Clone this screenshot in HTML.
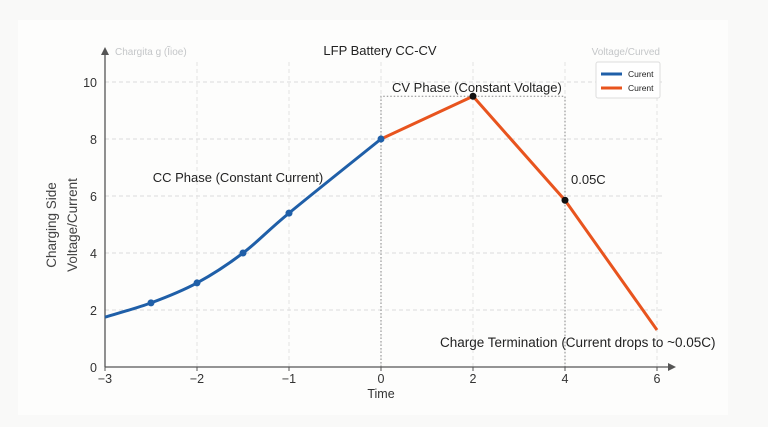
<!DOCTYPE html>
<html><head><meta charset="utf-8"><style>
html,body{margin:0;padding:0;background:#f9f9f8;}
svg{display:block;font-family:"Liberation Sans",sans-serif;}
</style></head><body>
<svg id="chart" width="768" height="427" viewBox="0 0 768 427" xmlns="http://www.w3.org/2000/svg">
<rect x="18" y="20" width="710" height="395" fill="#fdfdfc"/>
<g id="grid"></g><g id="axes"></g><g id="series"></g>
<text x="380" y="55" font-size="13" text-anchor="middle" fill="#222">LFP Battery CC-CV</text>
<text x="115" y="55" font-size="10" fill="#c4c6c8">Chargita g (Ĩioe)</text>
<text x="660" y="55" font-size="10" text-anchor="end" fill="#c4c6c8">Voltage/Curved</text>
<text transform="translate(56,225) rotate(-90)" font-size="13.5" text-anchor="middle" fill="#444">Charging Side</text>
<text transform="translate(77,225) rotate(-90)" font-size="13.5" text-anchor="middle" fill="#444">Voltage/Current</text>
<text x="381" y="398" font-size="12.5" text-anchor="middle" fill="#333">Time</text>
<text x="238" y="182" font-size="13" text-anchor="middle" fill="#222">CC Phase (Constant Current)</text>
<text x="392" y="92" font-size="13" fill="#222">CV Phase (Constant Voltage)</text>
<text x="571" y="184" font-size="13" fill="#222">0.05C</text>
<text x="440" y="347" font-size="13.5" fill="#222">Charge Termination (Current drops to ~0.05C)</text>
<g>
<rect x="596" y="62" width="64" height="36" fill="#fff" stroke="#ddd" rx="2"/>
<line x1="601" y1="74" x2="622" y2="74" stroke="#1f5fa8" stroke-width="3"/>
<text x="628" y="77" font-size="8.5" fill="#222">Curent</text>
<line x1="601" y1="88" x2="622" y2="88" stroke="#e8541e" stroke-width="3"/>
<text x="628" y="91" font-size="8.5" fill="#222">Curent</text>
</g>
</svg>
<script>
const xTicks=[-3,-2,-1,0,2,4,6];
const yTicks=[0,2,4,6,8,10];
const ccX=[-3,-2.5,-2,-1.5,-1,0];
const ccY=[1.75,2.25,2.95,4.0,5.4,8.0];
const cvX=[0,2,4,6];
const cvY=[8.0,9.5,5.85,1.3];
const ccMarkers=[-2.5,-2,-1.5,-1,0];
const NS="http://www.w3.org/2000/svg";
const X0=105,DX=92,Y0=367,DY=28.5;
function sx(v){
  for(let i=0;i<xTicks.length-1;i++){const a=xTicks[i],b=xTicks[i+1];
    if(v<=b||i===xTicks.length-2)return X0+DX*(i+(v-a)/(b-a));}
}
function sy(v){return Y0-v*DY;}
function mk(p,tag,attrs){const e=document.createElementNS(NS,tag);for(const k in attrs)e.setAttribute(k,attrs[k]);p.appendChild(e);return e;}
const grid=document.getElementById('grid'),axes=document.getElementById('axes'),ser=document.getElementById('series');
yTicks.forEach(t=>{if(t===0)return;const l=mk(grid,'line',{x1:105,x2:662,y1:sy(t),y2:sy(t),stroke:'#dcdcdc','stroke-dasharray':'4 3'});

});
xTicks.forEach(t=>{if(t===-3)return;const l=mk(grid,'line',{x1:sx(t),x2:sx(t),y1:Y0,y2:60,stroke:'#e2e2e2','stroke-dasharray':'4 3'});

});
const bx=mk(grid,'path',{d:`M${sx(0)},${Y0}V${sy(9.5)}H${sx(4)}V${Y0}`,fill:'none',stroke:'#888','stroke-dasharray':'1.5 2','stroke-width':1});


const ya=mk(axes,'line',{x1:105,x2:105,y1:Y0,y2:52,stroke:'#555','stroke-width':1.3});


const xa=mk(axes,'line',{x1:105,x2:670,y1:Y0,y2:Y0,stroke:'#555','stroke-width':1.3});


mk(axes,'path',{d:'M101,55L105,47L109,55Z',fill:'#555'});
mk(axes,'path',{d:'M668,363L676,367L668,371Z',fill:'#555'});
yTicks.forEach(t=>{const tx=mk(axes,'text',{x:97,y:sy(t)+5,'font-size':12.5,'text-anchor':'end',fill:'#333'});tx.textContent=t;

});
xTicks.forEach(t=>{mk(axes,'line',{x1:sx(t),x2:sx(t),y1:Y0,y2:Y0+4,stroke:'#555'});
const tx=mk(axes,'text',{x:sx(t),y:Y0+16,'font-size':12.5,'text-anchor':'middle',fill:'#333'});tx.textContent=(t<0?'\u2212'+(-t):t);

});
function smooth(xs,ys){const p=xs.map((x,i)=>[sx(x),sy(ys[i])]);let d=`M${p[0][0]},${p[0][1]}`;
for(let i=0;i<p.length-1;i++){const p0=p[i-1]||p[i],p1=p[i],p2=p[i+1],p3=p[i+2]||p2;
d+=`C${p1[0]+(p2[0]-p0[0])/6},${p1[1]+(p2[1]-p0[1])/6} ${p2[0]-(p3[0]-p1[0])/6},${p2[1]-(p3[1]-p1[1])/6} ${p2[0]},${p2[1]}`;}return d;}
const cv=mk(ser,'path',{d:'M'+cvX.map((x,i)=>sx(x)+','+sy(cvY[i])).join('L'),fill:'none',stroke:'#e8541e','stroke-width':3,'stroke-linejoin':'round'});


const cc=mk(ser,'path',{d:smooth(ccX,ccY),fill:'none',stroke:'#1f5fa8','stroke-width':3});


ccX.forEach((x,i)=>{if(!ccMarkers.includes(x))return;const c=mk(ser,'circle',{cx:sx(x),cy:sy(ccY[i]),r:3.5,fill:'#1f5fa8'});

});
[1,2].forEach(i=>{const c=mk(ser,'circle',{cx:sx(cvX[i]),cy:sy(cvY[i]),r:3.5,fill:'#111'});

});
</script>
</body></html>
